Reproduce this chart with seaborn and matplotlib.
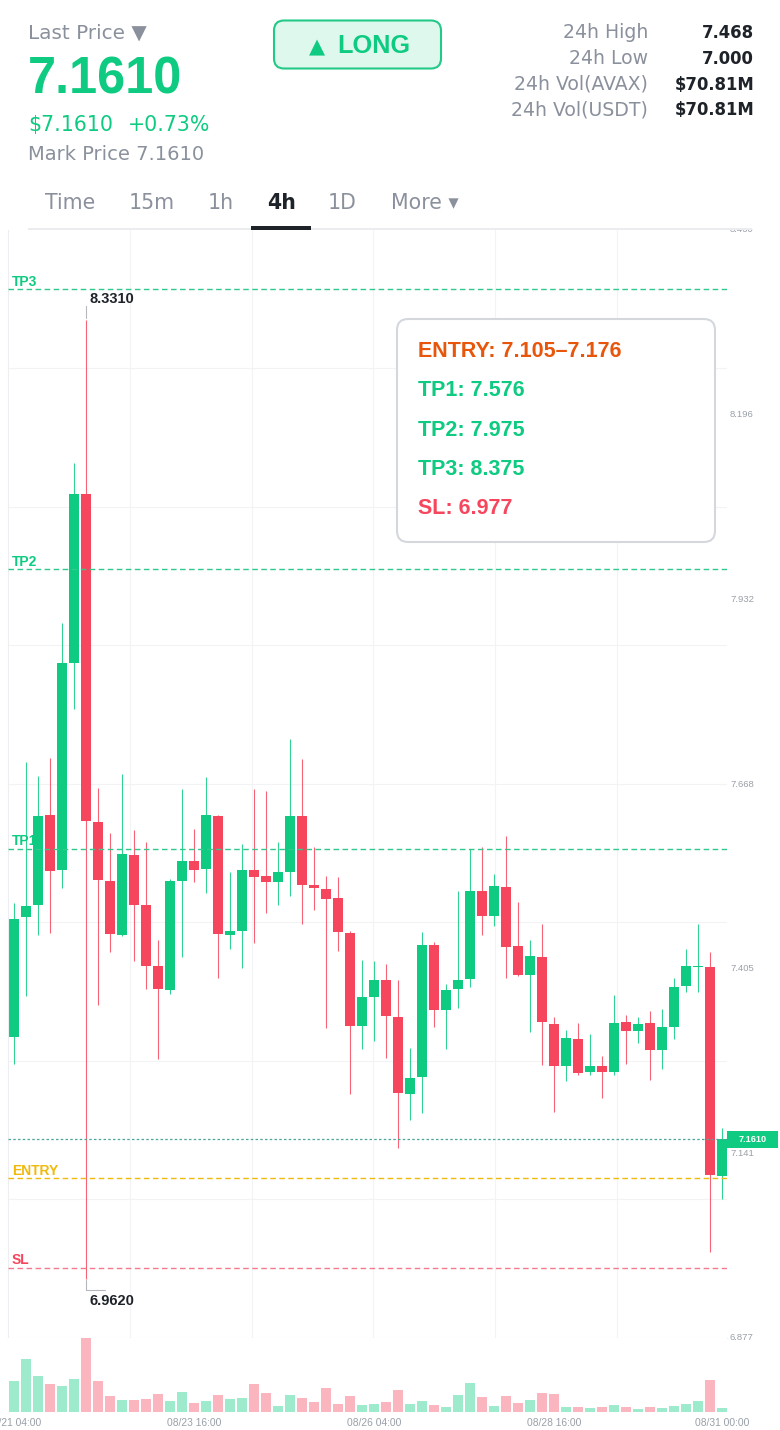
import numpy as np
import pandas as pd
import seaborn as sns
import matplotlib.pyplot as plt
from matplotlib.patches import FancyBboxPatch, Rectangle
from matplotlib.transforms import Bbox, IdentityTransform, blended_transform_factory

# AVAX/USDT 4h candles
opens = [7.307, 7.478, 7.495, 7.624, 7.545, 7.841, 8.083, 7.614, 7.530, 7.453,
         7.567, 7.495, 7.408, 7.374, 7.530, 7.559, 7.547, 7.623, 7.453, 7.459,
         7.545, 7.537, 7.529, 7.543, 7.623, 7.524, 7.519, 7.505, 7.456, 7.323,
         7.364, 7.388, 7.336, 7.226, 7.250, 7.439, 7.346, 7.375, 7.390, 7.515,
         7.480, 7.522, 7.437, 7.396, 7.422, 7.326, 7.265, 7.304, 7.257, 7.266,
         7.257, 7.328, 7.316, 7.327, 7.289, 7.321, 7.380, 7.407, 7.407, 7.109]
highs = [7.498, 7.700, 7.680, 7.706, 7.899, 8.127, 8.331, 7.663, 7.599, 7.683,
         7.603, 7.586, 7.446, 7.533, 7.662, 7.604, 7.679, 7.624, 7.543, 7.583,
         7.661, 7.659, 7.586, 7.733, 7.704, 7.579, 7.537, 7.536, 7.459, 7.417,
         7.416, 7.412, 7.389, 7.291, 7.457, 7.443, 7.383, 7.515, 7.575, 7.579,
         7.540, 7.594, 7.500, 7.445, 7.469, 7.336, 7.317, 7.327, 7.312, 7.280,
         7.367, 7.339, 7.335, 7.344, 7.347, 7.391, 7.433, 7.468, 7.429, 7.177]
lows = [7.268, 7.366, 7.453, 7.456, 7.520, 7.776, 6.962, 7.353, 7.429, 7.451,
        7.416, 7.376, 7.276, 7.369, 7.422, 7.529, 7.513, 7.391, 7.433, 7.406,
        7.441, 7.484, 7.495, 7.509, 7.468, 7.488, 7.320, 7.430, 7.225, 7.290,
        7.302, 7.277, 7.149, 7.189, 7.198, 7.322, 7.290, 7.348, 7.378, 7.453,
        7.466, 7.391, 7.394, 7.314, 7.267, 7.200, 7.244, 7.253, 7.253, 7.220,
        7.253, 7.268, 7.299, 7.246, 7.261, 7.304, 7.371, 7.372, 7.000, 7.076]
closes = [7.476, 7.494, 7.623, 7.544, 7.841, 8.083, 7.615, 7.531, 7.454, 7.569,
          7.496, 7.409, 7.375, 7.530, 7.559, 7.546, 7.624, 7.454, 7.459, 7.546,
          7.536, 7.528, 7.543, 7.623, 7.524, 7.520, 7.504, 7.457, 7.323, 7.364,
          7.388, 7.337, 7.227, 7.249, 7.439, 7.345, 7.374, 7.389, 7.516, 7.480,
          7.523, 7.436, 7.395, 7.423, 7.328, 7.266, 7.305, 7.256, 7.266, 7.257,
          7.327, 7.316, 7.326, 7.289, 7.321, 7.379, 7.408, 7.409, 7.110, 7.161]
# relative volume per candle
volumes = [93, 158, 107, 83, 79, 100, 221, 92, 47, 35,
           35, 39, 53, 32, 61, 28, 34, 51, 38, 42,
           83, 56, 18, 50, 42, 31, 71, 24, 47, 20,
           25, 30, 65, 24, 32, 20, 16, 50, 86, 44,
           18, 49, 26, 35, 56, 54, 16, 14, 11, 14,
           20, 16, 9, 16, 11, 19, 23, 32, 95, 11]

start_time = '2025-08-21 04:00'
x_tick_labels = ['08/21 04:00', '08/23 16:00', '08/26 04:00', '08/28 16:00', '08/31 00:00']
price_scale_labels = ['8.460', '8.196', '7.932', '7.668', '7.405', '7.141', '6.877']

level_names = ['TP3', 'TP2', 'TP1', 'ENTRY', 'SL']
level_prices = [8.375, 7.975, 7.576, 7.105, 6.977]
entry_range = [7.105, 7.176]

last_price = 7.161
change_pct = 0.73
stat_labels = ['24h High', '24h Low', '24h Vol(AVAX)', '24h Vol(USDT)']
stat_values = ['7.468', '7.000', '$70.81M', '$70.81M']
tab_labels = ['Time', '15m', '1h', '4h', '1D', 'More ▾']
active_tab = '4h'

GREEN = '#0ecb81'
RED = '#f6465d'
AMBER = '#f0b90b'
ORANGE = '#e8560c'
GRAY = '#8a909c'
DARK = '#1e2329'
GRID = '#f2f3f5'
AXIS_GRAY = '#9aa0a8'

df = pd.DataFrame({'open': opens, 'high': highs, 'low': lows, 'close': closes, 'volume': volumes})
df['i'] = np.arange(len(df))
df['dir'] = np.where(df['close'] >= df['open'], 'up', 'down')
df['color'] = np.where(df['dir'] == 'up', GREEN, RED)
times = pd.date_range(start_time, periods=len(df), freq='4h').strftime('%m/%d %H:%M').tolist()

sns.set_theme(style='white')
plt.rcParams['font.family'] = ['Liberation Sans', 'DejaVu Sans']

W, H = 780, 1430
fig = plt.figure(figsize=(W / 100, H / 100), dpi=100)
fig.patch.set_facecolor('white')


def put(x, y, s, **kw):
    # x, y in image pixels from the top-left corner
    kw.setdefault('va', 'baseline')
    return fig.text(x / W, 1 - y / H, s, **kw)


def pixel_patch(p):
    fig.add_artist(p)
    return p


HDR = ['DejaVu Sans']

# ---- header ----
put(28, 39, 'Last Price ▼', fontsize=14.4, color=GRAY, family=HDR)
put(28, 94, f'{last_price:.4f}', fontsize=36.4, weight='bold', color=GREEN, family=['Liberation Sans'])
put(28, 131, f'${last_price:.4f}', fontsize=14.8, color=GREEN, family=HDR)
put(128, 131, f'+{change_pct:.2f}%', fontsize=14.8, color=GREEN, family=HDR)
put(28, 160, f'Mark Price {last_price:.4f}', fontsize=14, color=GRAY, family=HDR)

for k, (lab, val) in enumerate(zip(stat_labels, stat_values)):
    y = 38.5 + 25.6 * k
    put(648, y, lab, ha='right', fontsize=13.6, color=GRAY, family=HDR)
    put(754, y, val, ha='right', fontsize=11.9, weight='bold', color=DARK, family=HDR)

pixel_patch(FancyBboxPatch((274, H - 68.5), 167, 48, boxstyle='round,pad=0,rounding_size=10',
                           transform=IdentityTransform(), facecolor='#dff8ee', edgecolor='#22c987', lw=1.5))
put(309, 53.3, '▲', ha='left', fontsize=15, color=GREEN, family=HDR)
put(337, 53.3, 'LONG', ha='left', fontsize=18.2, weight='bold', color=GREEN, family=['Liberation Sans'])

tab_x = [45, 129, 208, 267, 328, 391]
for x, lab in zip(tab_x, tab_labels):
    on = lab == active_tab
    put(x, 209, lab, fontsize=14.8, color=DARK if on else GRAY, weight='bold' if on else 'normal',
        family=HDR)
pixel_patch(Rectangle((28, H - 229.5), 724, 2, transform=IdentityTransform(), facecolor='#eaecef', lw=0))
pixel_patch(Rectangle((251, H - 230), 60, 4, transform=IdentityTransform(), facecolor=DARK, lw=0))

# ---- price pane ----
ax = fig.add_axes([8 / W, 1 - 1338 / H, 719 / W, 1108 / H])
vax = fig.add_axes([8 / W, 1 - 1412 / H, 719 / W, 74 / H])

y_lo, y_hi = float(price_scale_labels[-1]), float(price_scale_labels[0])
x_lo, x_hi = -0.5, -0.5 + 719 / 12
ax.set_xlim(x_lo, x_hi)
ax.set_ylim(y_lo, y_hi)
ppu = 1108 / (y_hi - y_lo)  # pixels per price unit
trans = blended_transform_factory(ax.transAxes, ax.transData)

for g in np.linspace(y_lo, y_hi, 9)[1:-1]:
    ax.axhline(g, color=GRID, lw=0.8, zorder=0)
for gx in x_lo + 121.8 / 12 * np.arange(1, 6):
    ax.axvline(gx, color=GRID, lw=0.8, zorder=0)

ax.vlines(df['i'], df['low'], df['high'], colors=df['color'], lw=0.8, alpha=0.85, zorder=2)
body_lo = df[['open', 'close']].min(axis=1)
body_h = (df['close'] - df['open']).abs().clip(lower=0.0015)
ax.bar(df['i'], body_h, bottom=body_lo, width=0.8, color=df['color'], lw=0, zorder=2.5)

level_colors = ['#2fc98e', '#2fc98e', '#2fc98e', AMBER, '#f27a8c']
for name, val, col in zip(level_names, level_prices, level_colors):
    ax.axhline(val, color=col, lw=1.0, ls=(0, (4, 2.5)), zorder=3)
    ax.text(4 / 719, val + 3.8 / ppu, name, transform=trans, fontsize=10, weight='bold',
            color=GREEN if col == '#2fc98e' else (RED if name == 'SL' else col),
            va='baseline', zorder=1)

ax.axhline(last_price, color='#4aa89a', lw=0.9, ls=(0, (2, 1.8)), zorder=3)

# highest / lowest markers
hi_i, lo_i = int(np.argmax(highs)), int(np.argmin(lows))
LEAD = '#b4b8be'
ax.plot([hi_i, hi_i], [highs[hi_i] + 2 / ppu, highs[hi_i] + 14 / ppu], color=LEAD, lw=0.8, zorder=4)
ax.text(hi_i + 4 / 12, highs[hi_i] + 17 / ppu, f'{highs[hi_i]:.4f}', fontsize=10.5, weight='bold',
        color=DARK, va='baseline', zorder=6)
ax.plot([lo_i, lo_i, lo_i + 19 / 12],
        [lows[lo_i] - 1 / ppu, lows[lo_i] - 11.5 / ppu, lows[lo_i] - 11.5 / ppu],
        color=LEAD, lw=0.8, zorder=4)
ax.text(lo_i + 4 / 12, lows[lo_i] - 26 / ppu, f'{lows[lo_i]:.4f}', fontsize=10.5, weight='bold',
        color=DARK, va='baseline', zorder=6)

# right price scale
clip = Bbox.from_extents(700, 0, W, H - 229)
for lab in price_scale_labels:
    t = ax.text((730 - 8) / 719, float(lab), lab, transform=trans, fontsize=6.8, color=AXIS_GRAY,
                va='center', ha='left')
    t.set_clip_path(None)
    t.set_clip_box(clip)
    t.set_clip_on(True)

ax.add_patch(Rectangle((1.0, last_price - 8.5 / ppu), 51 / 719, 17 / ppu, transform=trans,
                       clip_on=False, facecolor=GREEN, edgecolor='none', zorder=6))
ax.text((752.5 - 8) / 719, last_price, f'{last_price:.4f}', transform=trans, ha='center',
        va='center', fontsize=6.6, weight='bold', color='white', clip_on=False, zorder=7)

ax.set_xticks([])
ax.set_yticks([])
for s in ['top', 'right']:
    ax.spines[s].set_visible(False)
for s in ['left', 'bottom']:
    ax.spines[s].set_color('#eceef1')
    ax.spines[s].set_linewidth(0.8)

# ---- volume pane ----
sns.barplot(data=df, x='i', y='volume', hue='dir', palette={'up': GREEN, 'down': RED},
            dodge=False, width=0.83, saturation=1, alpha=0.4, errorbar=None, legend=False,
            linewidth=0, ax=vax)
vax.set_xlim(x_lo, x_hi)
vax.set_ylim(0, max(volumes))
tick_pos = [times.index(lab) for lab in x_tick_labels]
vax.set_xticks(tick_pos, x_tick_labels)
vax.tick_params(axis='x', length=0, pad=4.5, labelsize=7.4, labelcolor=AXIS_GRAY)
vax.set_yticks([])
vax.set_xlabel('')
vax.set_ylabel('')
for s in vax.spines.values():
    s.set_visible(False)

# ---- signal box ----
pixel_patch(FancyBboxPatch((397, H - 542), 318, 223, boxstyle='round,pad=0,rounding_size=11',
                           transform=IdentityTransform(), facecolor='white', edgecolor='#d4d8dd',
                           lw=1.5, zorder=5))
box_lines = [(f'ENTRY: {entry_range[0]:.3f}–{entry_range[1]:.3f}', ORANGE),
             (f'TP1: {level_prices[2]:.3f}', GREEN),
             (f'TP2: {level_prices[1]:.3f}', GREEN),
             (f'TP3: {level_prices[0]:.3f}', GREEN),
             (f'SL: {level_prices[4]:.3f}', RED)]
for (txt, col), y in zip(box_lines, [356.7, 396.3, 435.8, 474.8, 514.3]):
    put(418, y, txt, fontsize=15.5, weight='bold', color=col, family=['Liberation Sans'], zorder=6)

fig.savefig('out.png', dpi=100, facecolor='white')
